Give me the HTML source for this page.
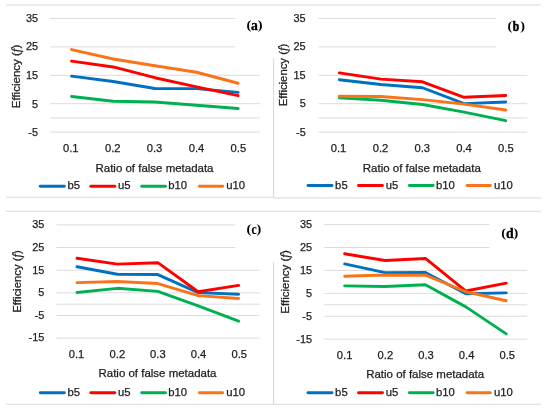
<!DOCTYPE html>
<html><head><meta charset="utf-8"><style>
html,body{margin:0;padding:0;background:#fff;width:550px;height:409px;overflow:hidden}
svg{display:block;will-change:transform}
</style></head><body>
<svg width="550" height="409" viewBox="0 0 550 409">
<rect width="550" height="409" fill="#fff"/>
<g stroke="#dadada" stroke-width="1.1" fill="none">
<line x1="6" y1="5.0" x2="541" y2="5.0"/>
<line x1="6" y1="197.3" x2="273.6" y2="197.3"/>
<line x1="273.6" y1="198.0" x2="541" y2="198.0"/>
<line x1="6" y1="211.2" x2="541" y2="211.2"/>
<line x1="6" y1="404.3" x2="541" y2="404.3"/>
<line x1="273.6" y1="58" x2="273.6" y2="198"/>
<line x1="273.6" y1="262" x2="273.6" y2="404"/>
</g>
<g stroke="#dcdcdc" stroke-width="1">
<line x1="50" y1="18.5" x2="235.3" y2="18.5"/>
<line x1="50" y1="46.9" x2="235.3" y2="46.9"/>
<line x1="50" y1="75.3" x2="260" y2="75.3"/>
<line x1="50" y1="103.7" x2="260" y2="103.7"/>
<line x1="50" y1="132.1" x2="260" y2="132.1"/>
<line x1="50" y1="117.9" x2="260" y2="117.9"/>
</g>
<g font-family='"Liberation Sans", sans-serif' font-size="10.9" fill="#1e1e1e" stroke="#1e1e1e" stroke-width="0.25" text-anchor="end">
<text x="38" y="21.8">35</text>
<text x="38" y="50.2">25</text>
<text x="38" y="78.6">15</text>
<text x="38" y="107.5">5</text>
<text x="38" y="136.4">-5</text>
</g>
<g font-family='"Liberation Sans", sans-serif' font-size="11.2" fill="#1e1e1e" stroke="#1e1e1e" stroke-width="0.25" text-anchor="middle">
<text x="70.7" y="152.4">0.1</text>
<text x="112.75" y="152.4">0.2</text>
<text x="154.55" y="152.4">0.3</text>
<text x="196.45" y="152.4">0.4</text>
<text x="238.35" y="152.4">0.5</text>
</g>
<text x="154.5" y="171.8" font-family='"Liberation Sans", sans-serif' font-size="10.6" fill="#1e1e1e" stroke="#1e1e1e" stroke-width="0.25" text-anchor="middle" textLength="118" lengthAdjust="spacingAndGlyphs">Ratio of false metadata</text>
<text transform="translate(20.4,76.5) rotate(-90)" font-family='"Liberation Sans", sans-serif' font-size="10.3" fill="#1e1e1e" stroke="#1e1e1e" stroke-width="0.25" text-anchor="middle" textLength="63.5" lengthAdjust="spacingAndGlyphs">Efficiency (<tspan font-style="italic" font-family='"Liberation Serif", serif' font-size="11.5">f</tspan>)</text>
<polyline points="71.55,76.15 113.2,81.52 154.85,88.48 196.5,88.65 238.15,92.37" fill="none" stroke="#0070c0" stroke-width="2.9" stroke-linejoin="round" stroke-linecap="round"/>
<polyline points="71.55,61.1 113.2,66.95 154.85,77.71 196.5,86.8 238.15,95.66" fill="none" stroke="#ff0000" stroke-width="2.9" stroke-linejoin="round" stroke-linecap="round"/>
<polyline points="71.55,96.49 113.2,101.29 154.85,102.02 196.5,105.26 238.15,108.53" fill="none" stroke="#00b050" stroke-width="2.9" stroke-linejoin="round" stroke-linecap="round"/>
<polyline points="71.55,49.57 113.2,58.97 154.85,65.79 196.5,72.23 238.15,83.25" fill="none" stroke="#fa7319" stroke-width="2.9" stroke-linejoin="round" stroke-linecap="round"/>
<line x1="40.3" y1="186.3" x2="64.3" y2="186.3" stroke="#0070c0" stroke-width="2.9" stroke-linecap="round"/>
<text x="67.4" y="189.1" font-family='"Liberation Sans", sans-serif' font-size="11.3" fill="#1e1e1e" stroke="#1e1e1e" stroke-width="0.25">b5</text>
<line x1="90.8" y1="186.3" x2="114.8" y2="186.3" stroke="#ff0000" stroke-width="2.9" stroke-linecap="round"/>
<text x="118" y="189.1" font-family='"Liberation Sans", sans-serif' font-size="11.3" fill="#1e1e1e" stroke="#1e1e1e" stroke-width="0.25">u5</text>
<line x1="141.7" y1="186.3" x2="165.5" y2="186.3" stroke="#00b050" stroke-width="2.9" stroke-linecap="round"/>
<text x="168.3" y="189.1" font-family='"Liberation Sans", sans-serif' font-size="11.3" fill="#1e1e1e" stroke="#1e1e1e" stroke-width="0.25">b10</text>
<line x1="199.4" y1="186.3" x2="222.6" y2="186.3" stroke="#fa7319" stroke-width="2.9" stroke-linecap="round"/>
<text x="226.2" y="189.1" font-family='"Liberation Sans", sans-serif' font-size="11.3" fill="#1e1e1e" stroke="#1e1e1e" stroke-width="0.25">u10</text>
<text transform="translate(246.47,29.37) scale(1.067,0.915)" font-family='"Liberation Serif", serif' font-weight="bold" font-size="13.5" fill="#000">(</text>
<text transform="translate(257.64,29.37) scale(1.067,0.915)" font-family='"Liberation Serif", serif' font-weight="bold" font-size="13.5" fill="#000">)</text>
<text transform="translate(251.06,30.17) scale(1.015,1.005)" font-family='"Liberation Serif", serif' font-weight="bold" font-size="13.5" fill="#000" stroke="#000" stroke-width="0.30">a</text>
<g stroke="#dcdcdc" stroke-width="1">
<line x1="318.6" y1="18.5" x2="496.3" y2="18.5"/>
<line x1="318.6" y1="46.9" x2="496.3" y2="46.9"/>
<line x1="318.6" y1="75.3" x2="527.3" y2="75.3"/>
<line x1="318.6" y1="103.7" x2="527.3" y2="103.7"/>
<line x1="318.6" y1="132.1" x2="527.3" y2="132.1"/>
<line x1="318.6" y1="117.9" x2="527.3" y2="117.9"/>
</g>
<g font-family='"Liberation Sans", sans-serif' font-size="10.9" fill="#1e1e1e" stroke="#1e1e1e" stroke-width="0.25" text-anchor="end">
<text x="305.7" y="21.8">35</text>
<text x="305.7" y="50.2">25</text>
<text x="305.7" y="78.6">15</text>
<text x="305.7" y="107">5</text>
<text x="305.7" y="135.9">-5</text>
</g>
<g font-family='"Liberation Sans", sans-serif' font-size="11.2" fill="#1e1e1e" stroke="#1e1e1e" stroke-width="0.25" text-anchor="middle">
<text x="338.45" y="152.4">0.1</text>
<text x="380.45" y="152.4">0.2</text>
<text x="422.2" y="152.4">0.3</text>
<text x="464.05" y="152.4">0.4</text>
<text x="505.9" y="152.4">0.5</text>
</g>
<text x="421.8" y="171.8" font-family='"Liberation Sans", sans-serif' font-size="10.6" fill="#1e1e1e" stroke="#1e1e1e" stroke-width="0.25" text-anchor="middle" textLength="118" lengthAdjust="spacingAndGlyphs">Ratio of false metadata</text>
<text transform="translate(286.9,75) rotate(-90)" font-family='"Liberation Sans", sans-serif' font-size="10.3" fill="#1e1e1e" stroke="#1e1e1e" stroke-width="0.25" text-anchor="middle" textLength="62.5" lengthAdjust="spacingAndGlyphs">Efficiency (<tspan font-style="italic" font-family='"Liberation Serif", serif' font-size="11.5">f</tspan>)</text>
<polyline points="339.3,79.76 380.9,84.44 422.5,87.77 464.1,103.67 505.7,101.94" fill="none" stroke="#0070c0" stroke-width="2.9" stroke-linejoin="round" stroke-linecap="round"/>
<polyline points="339.3,72.86 380.9,79.13 422.5,81.78 464.1,97.31 505.7,95.46" fill="none" stroke="#ff0000" stroke-width="2.9" stroke-linejoin="round" stroke-linecap="round"/>
<polyline points="339.3,97.85 380.9,100.24 422.5,104.52 464.1,112.19 505.7,120.68" fill="none" stroke="#00b050" stroke-width="2.9" stroke-linejoin="round" stroke-linecap="round"/>
<polyline points="339.3,96.26 380.9,96.54 422.5,99.58 464.1,104.18 505.7,109.95" fill="none" stroke="#fa7319" stroke-width="2.9" stroke-linejoin="round" stroke-linecap="round"/>
<line x1="308" y1="185.5" x2="332" y2="185.5" stroke="#0070c0" stroke-width="2.9" stroke-linecap="round"/>
<text x="335.1" y="189.1" font-family='"Liberation Sans", sans-serif' font-size="11.3" fill="#1e1e1e" stroke="#1e1e1e" stroke-width="0.25">b5</text>
<line x1="358.5" y1="185.5" x2="382.5" y2="185.5" stroke="#ff0000" stroke-width="2.9" stroke-linecap="round"/>
<text x="385.7" y="189.1" font-family='"Liberation Sans", sans-serif' font-size="11.3" fill="#1e1e1e" stroke="#1e1e1e" stroke-width="0.25">u5</text>
<line x1="409.4" y1="185.5" x2="433.2" y2="185.5" stroke="#00b050" stroke-width="2.9" stroke-linecap="round"/>
<text x="436" y="189.1" font-family='"Liberation Sans", sans-serif' font-size="11.3" fill="#1e1e1e" stroke="#1e1e1e" stroke-width="0.25">b10</text>
<line x1="467.1" y1="185.5" x2="490.3" y2="185.5" stroke="#fa7319" stroke-width="2.9" stroke-linecap="round"/>
<text x="493.9" y="189.1" font-family='"Liberation Sans", sans-serif' font-size="11.3" fill="#1e1e1e" stroke="#1e1e1e" stroke-width="0.25">u10</text>
<text transform="translate(507.57,29.82) scale(1.067,0.931)" font-family='"Liberation Serif", serif' font-weight="bold" font-size="13.5" fill="#000">(</text>
<text transform="translate(520.34,29.82) scale(1.067,0.931)" font-family='"Liberation Serif", serif' font-weight="bold" font-size="13.5" fill="#000">)</text>
<text transform="translate(512.75,31.06) scale(0.854,1.032)" font-family='"Liberation Serif", serif' font-weight="bold" font-size="13.5" fill="#000" stroke="#000" stroke-width="0.58">b</text>
<g stroke="#dcdcdc" stroke-width="1">
<line x1="56.5" y1="224.9" x2="235.2" y2="224.9"/>
<line x1="56.5" y1="247.55" x2="235.2" y2="247.55"/>
<line x1="56.5" y1="270.2" x2="259.5" y2="270.2"/>
<line x1="56.5" y1="292.85" x2="259.5" y2="292.85"/>
<line x1="56.5" y1="315.5" x2="259.5" y2="315.5"/>
<line x1="56.5" y1="338.15" x2="259.5" y2="338.15"/>
<line x1="56.5" y1="304.18" x2="259.5" y2="304.18"/>
</g>
<g font-family='"Liberation Sans", sans-serif' font-size="10.9" fill="#1e1e1e" stroke="#1e1e1e" stroke-width="0.25" text-anchor="end">
<text x="44.3" y="228.2">35</text>
<text x="44.3" y="250.85">25</text>
<text x="44.3" y="273.5">15</text>
<text x="44.3" y="296.15">5</text>
<text x="44.3" y="318.8">-5</text>
<text x="44.3" y="341.45">-15</text>
</g>
<g font-family='"Liberation Sans", sans-serif' font-size="11.2" fill="#1e1e1e" stroke="#1e1e1e" stroke-width="0.25" text-anchor="middle">
<text x="76.55" y="357.6">0.1</text>
<text x="117.35" y="357.6">0.2</text>
<text x="157.9" y="357.6">0.3</text>
<text x="198.55" y="357.6">0.4</text>
<text x="239.2" y="357.6">0.5</text>
</g>
<text x="157.5" y="376.8" font-family='"Liberation Sans", sans-serif' font-size="10.6" fill="#1e1e1e" stroke="#1e1e1e" stroke-width="0.25" text-anchor="middle" textLength="118" lengthAdjust="spacingAndGlyphs">Ratio of false metadata</text>
<text transform="translate(20.65,281.45) rotate(-90)" font-family='"Liberation Sans", sans-serif' font-size="10.3" fill="#1e1e1e" stroke="#1e1e1e" stroke-width="0.25" text-anchor="middle" textLength="62.6" lengthAdjust="spacingAndGlyphs">Efficiency (<tspan font-style="italic" font-family='"Liberation Serif", serif' font-size="11.5">f</tspan>)</text>
<polyline points="77,266.8 117.4,274.28 157.8,274.57 198.2,292.67 238.6,294.21" fill="none" stroke="#0070c0" stroke-width="2.9" stroke-linejoin="round" stroke-linecap="round"/>
<polyline points="77,258.2 117.4,264.08 157.8,262.68 198.2,291.76 238.6,285.38" fill="none" stroke="#ff0000" stroke-width="2.9" stroke-linejoin="round" stroke-linecap="round"/>
<polyline points="77,292.46 117.4,288.32 157.8,291.4 198.2,305.81 238.6,321.16" fill="none" stroke="#00b050" stroke-width="2.9" stroke-linejoin="round" stroke-linecap="round"/>
<polyline points="77,282.66 117.4,281.52 157.8,283.56 198.2,295.61 238.6,298.51" fill="none" stroke="#fa7319" stroke-width="2.9" stroke-linejoin="round" stroke-linecap="round"/>
<line x1="40.3" y1="392.8" x2="64.3" y2="392.8" stroke="#0070c0" stroke-width="2.9" stroke-linecap="round"/>
<text x="67.4" y="396.2" font-family='"Liberation Sans", sans-serif' font-size="11.3" fill="#1e1e1e" stroke="#1e1e1e" stroke-width="0.25">b5</text>
<line x1="90.8" y1="392.8" x2="114.8" y2="392.8" stroke="#ff0000" stroke-width="2.9" stroke-linecap="round"/>
<text x="118" y="396.2" font-family='"Liberation Sans", sans-serif' font-size="11.3" fill="#1e1e1e" stroke="#1e1e1e" stroke-width="0.25">u5</text>
<line x1="141.7" y1="392.8" x2="165.5" y2="392.8" stroke="#00b050" stroke-width="2.9" stroke-linecap="round"/>
<text x="168.3" y="396.2" font-family='"Liberation Sans", sans-serif' font-size="11.3" fill="#1e1e1e" stroke="#1e1e1e" stroke-width="0.25">b10</text>
<line x1="199.4" y1="392.8" x2="222.6" y2="392.8" stroke="#fa7319" stroke-width="2.9" stroke-linecap="round"/>
<text x="226.2" y="396.2" font-family='"Liberation Sans", sans-serif' font-size="11.3" fill="#1e1e1e" stroke="#1e1e1e" stroke-width="0.25">u10</text>
<text transform="translate(246.47,233.14) scale(1.067,0.890)" font-family='"Liberation Serif", serif' font-weight="bold" font-size="13.5" fill="#000">(</text>
<text transform="translate(256.54,233.14) scale(1.067,0.890)" font-family='"Liberation Serif", serif' font-weight="bold" font-size="13.5" fill="#000">)</text>
<text transform="translate(251.40,234.17) scale(0.866,1.002)" font-family='"Liberation Serif", serif' font-weight="bold" font-size="13.5" fill="#000" stroke="#000" stroke-width="0.10">c</text>
<g stroke="#dcdcdc" stroke-width="1">
<line x1="324.3" y1="224.58" x2="489.4" y2="224.58"/>
<line x1="324.3" y1="247.5" x2="489.4" y2="247.5"/>
<line x1="324.3" y1="270.41" x2="527.3" y2="270.41"/>
<line x1="324.3" y1="293.33" x2="527.3" y2="293.33"/>
<line x1="324.3" y1="316.24" x2="527.3" y2="316.24"/>
<line x1="324.3" y1="339.16" x2="527.3" y2="339.16"/>
<line x1="324.3" y1="304.78" x2="527.3" y2="304.78"/>
</g>
<g font-family='"Liberation Sans", sans-serif' font-size="10.9" fill="#1e1e1e" stroke="#1e1e1e" stroke-width="0.25" text-anchor="end">
<text x="312" y="227.88">35</text>
<text x="312" y="250.98">25</text>
<text x="312" y="274.07">15</text>
<text x="312" y="297.17">5</text>
<text x="312" y="320.26">-5</text>
<text x="312" y="343.36">-15</text>
</g>
<g font-family='"Liberation Sans", sans-serif' font-size="11.2" fill="#1e1e1e" stroke="#1e1e1e" stroke-width="0.25" text-anchor="middle">
<text x="344.6" y="358.5">0.1</text>
<text x="385.4" y="358.5">0.2</text>
<text x="425.95" y="358.5">0.3</text>
<text x="466.6" y="358.5">0.4</text>
<text x="507.25" y="358.5">0.5</text>
</g>
<text x="425.2" y="377.8" font-family='"Liberation Sans", sans-serif' font-size="10.6" fill="#1e1e1e" stroke="#1e1e1e" stroke-width="0.25" text-anchor="middle" textLength="118" lengthAdjust="spacingAndGlyphs">Ratio of false metadata</text>
<text transform="translate(289,281.95) rotate(-90)" font-family='"Liberation Sans", sans-serif' font-size="10.3" fill="#1e1e1e" stroke="#1e1e1e" stroke-width="0.25" text-anchor="middle" textLength="63.5" lengthAdjust="spacingAndGlyphs">Efficiency (<tspan font-style="italic" font-family='"Liberation Serif", serif' font-size="11.5">f</tspan>)</text>
<polyline points="344.65,263.93 385.05,272.58 425.45,272.53 465.85,293.76 506.25,292.85" fill="none" stroke="#0070c0" stroke-width="2.9" stroke-linejoin="round" stroke-linecap="round"/>
<polyline points="344.65,253.73 385.05,260.53 425.45,258.47 465.85,291.04 506.25,283.11" fill="none" stroke="#ff0000" stroke-width="2.9" stroke-linejoin="round" stroke-linecap="round"/>
<polyline points="344.65,285.83 385.05,286.51 425.45,284.7 465.85,306.89 506.25,333.85" fill="none" stroke="#00b050" stroke-width="2.9" stroke-linejoin="round" stroke-linecap="round"/>
<polyline points="344.65,276.32 385.05,274.96 425.45,275.18 465.85,291.72 506.25,300.78" fill="none" stroke="#fa7319" stroke-width="2.9" stroke-linejoin="round" stroke-linecap="round"/>
<line x1="308" y1="392.8" x2="332" y2="392.8" stroke="#0070c0" stroke-width="2.9" stroke-linecap="round"/>
<text x="335.1" y="396.2" font-family='"Liberation Sans", sans-serif' font-size="11.3" fill="#1e1e1e" stroke="#1e1e1e" stroke-width="0.25">b5</text>
<line x1="358.5" y1="392.8" x2="382.5" y2="392.8" stroke="#ff0000" stroke-width="2.9" stroke-linecap="round"/>
<text x="385.7" y="396.2" font-family='"Liberation Sans", sans-serif' font-size="11.3" fill="#1e1e1e" stroke="#1e1e1e" stroke-width="0.25">u5</text>
<line x1="409.4" y1="392.8" x2="433.2" y2="392.8" stroke="#00b050" stroke-width="2.9" stroke-linecap="round"/>
<text x="436" y="396.2" font-family='"Liberation Sans", sans-serif' font-size="11.3" fill="#1e1e1e" stroke="#1e1e1e" stroke-width="0.25">b10</text>
<line x1="467.1" y1="392.8" x2="490.3" y2="392.8" stroke="#fa7319" stroke-width="2.9" stroke-linecap="round"/>
<text x="493.9" y="396.2" font-family='"Liberation Sans", sans-serif' font-size="11.3" fill="#1e1e1e" stroke="#1e1e1e" stroke-width="0.25">u10</text>
<text transform="translate(501.17,237.02) scale(1.067,0.931)" font-family='"Liberation Serif", serif' font-weight="bold" font-size="13.5" fill="#000">(</text>
<text transform="translate(513.44,237.02) scale(1.067,0.931)" font-family='"Liberation Serif", serif' font-weight="bold" font-size="13.5" fill="#000">)</text>
<text transform="translate(505.94,238.17) scale(1.028,1.021)" font-family='"Liberation Serif", serif' font-weight="bold" font-size="13.5" fill="#000" stroke="#000" stroke-width="0.29">d</text>
</svg>
</body></html>
